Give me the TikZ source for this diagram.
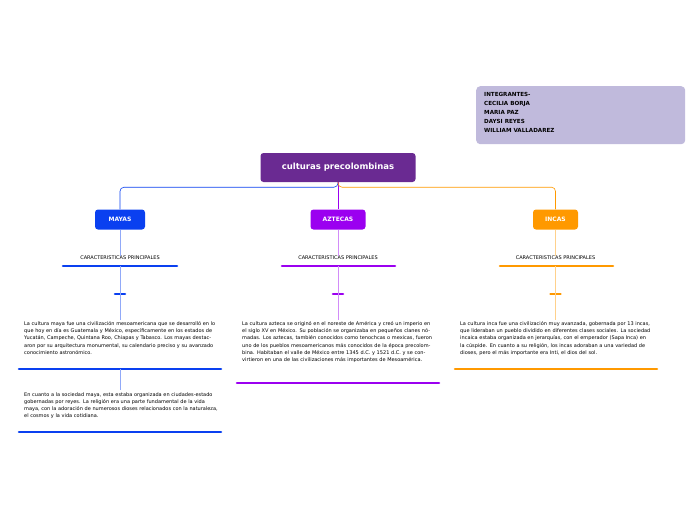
\documentclass[tikz,border=0pt]{standalone}
\usepackage{fontspec}
\setmainfont{DejaVu Sans}
\begin{document}
\definecolor{tit}{RGB}{106,42,146}
\definecolor{lav}{RGB}{192,186,220}
\definecolor{mb}{RGB}{10,64,240}
\definecolor{ap}{RGB}{155,0,240}
\definecolor{io}{RGB}{255,153,0}
\begin{tikzpicture}[x=1pt,y=-1pt,
  main/.style={rounded corners=3pt,text=white,font=\bfseries\fontsize{6}{7}\selectfont,minimum height=20pt,inner sep=0pt},
  lbl/.style={font=\fontsize{5}{6}\selectfont,inner sep=0pt},
  txt/.style={font=\fontsize{5}{7.3}\selectfont,align=left,anchor=north west,inner sep=0pt,text width=195pt},
  ul/.style={line width=2.6pt,line cap=round},
  cn/.style={line width=0.6pt}]
\useasboundingbox (0,0) rectangle (696,520);
\node[fill=lav,rounded corners=4pt,minimum width=209pt,minimum height=58pt,anchor=north west] (int) at (476,86) {};
\node[anchor=north west,align=left,inner sep=0pt,font=\bfseries\fontsize{5.6}{9}\selectfont] (intt) at (484,92) {INTEGRANTES-\\CECILIA BORJA\\MARIA PAZ\\DAYSI REYES\\WILLIAM VALLADAREZ};
\node[fill=tit,rounded corners=3pt,text=white,font=\bfseries\fontsize{8.5}{10}\selectfont,minimum width=155pt,minimum height=29pt] (t) at (338,167.5) {culturas precolombinas};
\node[main,fill=mb,minimum width=50pt] (m) at (120,219.5) {MAYAS};
\node[main,fill=ap,minimum width=55pt] (a) at (338,219.5) {AZTECAS};
\node[main,fill=io,minimum width=45pt] (i) at (555.5,219.5) {INCAS};
\draw[cn,mb,rounded corners=4pt] (t.south) -- ++(0,5) -| (m.north);
\draw[cn,ap] (t.south) -- (a.north);
\draw[cn,io,rounded corners=4pt] (t.south) -- ++(0,5) -| (i.north);
\foreach \n/\x/\c/\l/\r in {m/120/mb/63/177,a/338/ap/282/395,i/555.5/io/500/613}{
  \node[lbl] (\n l) at (\x,258) {CARACTERISTICAS PRINCIPALES};
  \coordinate (\n u1) at (\l,266); \coordinate (\n u2) at (\r,266);
  \draw[ul,\c] (\n u1) -- (\n u2);
  \coordinate (\n d1) at ({\x-5},294); \coordinate (\n d2) at ({\x+5},294);
  \draw[ul,\c] (\n d1) -- (\n d2);
  \draw[cn,\c!45] (\n.south) -- (\n l.north);
  \draw[cn,\c!45] (\x,266) -- (\x,294);
}
\node[txt] (mt1) at (24,321) {La cultura maya fue una civilización mesoamericana que se desarrolló en lo que hoy en día es Guatemala y México, específicamente en los estados de Yucatán, Campeche, Quintana Roo, Chiapas y Tabasco. Los mayas destacaron por su arquitectura monumental, su calendario preciso y su avanzado conocimiento astronómico.};
\draw[ul,mb] (19,369) -- (221,369);
\node[txt] (mt2) at (24,392) {En cuanto a la sociedad maya, esta estaba organizada en ciudades-estado gobernadas por reyes. La religión era una parte fundamental de la vida maya, con la adoración de numerosos dioses relacionados con la naturaleza, el cosmos y la vida cotidiana.};
\draw[ul,mb] (19,432) -- (221,432);
\draw[cn,mb!45] (120,294) -- (120,320);
\draw[cn,mb!45] (120,369) -- (120,390);
\node[txt] (at) at (242,321) {La cultura azteca se originó en el noreste de América y creó un imperio en el siglo XV en México. Su población se organizaba en pequeños clanes nómadas. Los aztecas, también conocidos como tenochcas o mexicas, fueron uno de los pueblos mesoamericanos más conocidos de la época precolombina. Habitaban el valle de México entre 1345 d.C. y 1521 d.C. y se convirtieron en una de las civilizaciones más importantes de Mesoamérica.};
\draw[ul,ap] (237,383) -- (439,383);
\draw[cn,ap!45] (338,294) -- (338,320);
\node[txt] (it) at (460,321) {La cultura inca fue una civilización muy avanzada, gobernada por 13 incas, que lideraban un pueblo dividido en diferentes clases sociales. La sociedad incaica estaba organizada en jerarquías, con el emperador (Sapa Inca) en la cúspide. En cuanto a su religión, los incas adoraban a una variedad de dioses, pero el más importante era Inti, el dios del sol.};
\draw[ul,io] (455,369) -- (657,369);
\draw[cn,io!45] (555.5,294) -- (555.5,320);
\end{tikzpicture}
\end{document}
